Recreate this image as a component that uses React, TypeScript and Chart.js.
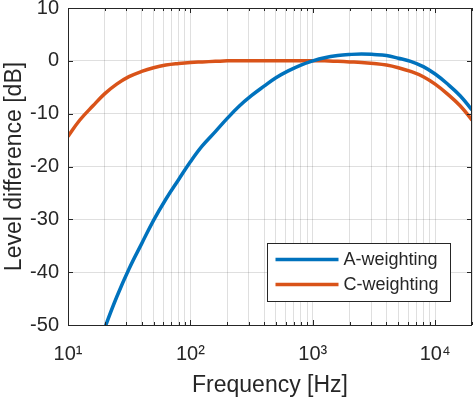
import React, { useEffect, useRef } from 'react';
import { Chart, registerables } from 'chart.js';

Chart.register(...registerables);

// Frequencies (Hz), third-octave bands
const frequencies = [10, 12.5, 16, 20, 25, 31.5, 40, 50, 63, 80, 100, 125, 160, 200, 250, 315, 400, 500, 630, 800, 1000, 1250, 1600, 2000, 2500, 3150, 4000, 5000, 6300, 8000, 10000, 12500, 16000, 20000];
// Level difference (dB)
const aWeighting = [-70.4, -63.4, -56.7, -50.5, -44.7, -39.4, -34.6, -30.2, -26.2, -22.5, -19.1, -16.1, -13.4, -10.9, -8.6, -6.6, -4.8, -3.2, -1.9, -0.8, 0, 0.6, 1.0, 1.2, 1.3, 1.2, 1.0, 0.5, -0.1, -1.1, -2.5, -4.3, -6.6, -9.3];
const cWeighting = [-14.3, -11.2, -8.5, -6.2, -4.4, -3.0, -2.0, -1.3, -0.8, -0.5, -0.3, -0.2, -0.1, 0, 0, 0, 0, 0, 0, 0, 0, 0, -0.1, -0.2, -0.3, -0.5, -0.8, -1.3, -2.0, -3.0, -4.4, -6.2, -8.5, -11.2];

const seriesLabels = ['A-weighting', 'C-weighting'];
const seriesColors = ['#0072BD', '#D95319'];

const xTickValues = [10, 20, 30, 40, 50, 60, 70, 80, 90, 100, 200, 300, 400, 500, 600, 700, 800, 900, 1000, 2000, 3000, 4000, 5000, 6000, 7000, 8000, 9000, 10000, 20000];
const xMajorValues = [10, 100, 1000, 10000];
const xMajorLabels = ['10\u00B9', '10\u00B2', '10\u00B3', '10\u2074'];
const yTickValues = [-50, -40, -30, -20, -10, 0, 10];

const FONT = '"Liberation Sans", Arial, sans-serif';
const AXIS_COLOR = '#262626';
const GRID_COLOR = 'rgba(38,38,38,0.15)';

const framePlugin = {
  id: 'frameAndTicks',
  afterDatasetsDraw(chart: any) {
    const ctx = chart.ctx;
    const { left, right, top, bottom } = chart.chartArea;
    const xs = chart.scales.x;
    const ys = chart.scales.y;
    ctx.save();
    ctx.strokeStyle = AXIS_COLOR;
    ctx.lineWidth = 1;
    ctx.beginPath();
    xTickValues.forEach((v) => {
      const px = Math.round(xs.getPixelForValue(v)) + 0.5;
      const len = xMajorValues.includes(v) ? 5 : 3;
      ctx.moveTo(px, bottom);
      ctx.lineTo(px, bottom - len);
      ctx.moveTo(px, top);
      ctx.lineTo(px, top + len);
    });
    yTickValues.forEach((v) => {
      const py = Math.round(ys.getPixelForValue(v)) + 0.5;
      ctx.moveTo(left, py);
      ctx.lineTo(left + 5, py);
      ctx.moveTo(right, py);
      ctx.lineTo(right - 5, py);
    });
    ctx.stroke();
    ctx.strokeRect(Math.round(left) + 0.5, Math.round(top) + 0.5, Math.round(right - left) - 1, Math.round(bottom - top));
    ctx.restore();
  },
  afterDraw(chart: any) {
    const ctx = chart.ctx;
    const { right, bottom } = chart.chartArea;
    const bw = 183;
    const bh = 58;
    const bx = Math.round(right - 22 - bw) + 0.5;
    const by = Math.round(bottom - 24 - bh) + 0.5;
    ctx.save();
    ctx.fillStyle = '#ffffff';
    ctx.fillRect(bx, by, bw, bh);
    ctx.strokeStyle = AXIS_COLOR;
    ctx.lineWidth = 1;
    ctx.strokeRect(bx, by, bw, bh);
    ctx.font = `18px ${FONT}`;
    ctx.textBaseline = 'middle';
    ctx.textAlign = 'left';
    chart.data.datasets.forEach((ds: any, i: number) => {
      const cy = by + 16 + i * 25;
      ctx.strokeStyle = ds.borderColor;
      ctx.lineWidth = 3.5;
      ctx.beginPath();
      ctx.moveTo(bx + 8, cy);
      ctx.lineTo(bx + 71, cy);
      ctx.stroke();
      ctx.fillStyle = AXIS_COLOR;
      ctx.fillText(ds.label, bx + 76, cy + 1);
    });
    ctx.restore();
  },
};

export default function App() {
  const canvasRef = useRef<HTMLCanvasElement | null>(null);

  useEffect(() => {
    if (!canvasRef.current) return;
    const makeData = (values: number[]) => frequencies.map((f, i) => ({ x: f, y: values[i] }));
    const chart = new Chart(canvasRef.current, {
      type: 'line',
      data: {
        datasets: [
          {
            label: seriesLabels[0],
            data: makeData(aWeighting),
            borderColor: seriesColors[0],
            backgroundColor: seriesColors[0],
            borderWidth: 3.5,
            pointRadius: 0,
            tension: 0.4,
            clip: 0,
          },
          {
            label: seriesLabels[1],
            data: makeData(cWeighting),
            borderColor: seriesColors[1],
            backgroundColor: seriesColors[1],
            borderWidth: 3.5,
            pointRadius: 0,
            tension: 0.4,
            clip: 0,
          },
        ],
      },
      options: {
        animation: false,
        responsive: false,
        maintainAspectRatio: false,
        layout: { padding: { left: 0, right: 2, top: 8, bottom: 0 } },
        plugins: {
          legend: { display: false },
          tooltip: { enabled: false },
        },
        scales: {
          x: {
            type: 'logarithmic',
            min: 10,
            max: 20000,
            afterBuildTicks: (scale: any) => {
              scale.ticks = xTickValues.map((v) => ({ value: v, major: xMajorValues.includes(v) }));
            },
            afterFit: (scale: any) => {
              scale.height = 74;
              scale.paddingLeft = 0;
              scale.paddingRight = 0;
            },
            grid: { color: GRID_COLOR, drawTicks: false, lineWidth: 1 },
            border: { display: false },
            ticks: {
              autoSkip: false,
              maxRotation: 0,
              padding: 17,
              color: AXIS_COLOR,
              font: { family: FONT, size: 20 },
              callback: (v: any) => {
                const idx = xMajorValues.indexOf(Number(v));
                return idx >= 0 ? xMajorLabels[idx] : '';
              },
            },
            title: {
              display: true,
              text: 'Frequency [Hz]',
              color: AXIS_COLOR,
              font: { family: FONT, size: 23 },
              padding: { top: 0, bottom: 0 },
            },
          },
          y: {
            type: 'linear',
            min: -50,
            max: 10,
            afterBuildTicks: (scale: any) => {
              scale.ticks = yTickValues.map((v) => ({ value: v }));
            },
            afterFit: (scale: any) => {
              scale.width = 68;
              scale.paddingTop = 0;
              scale.paddingBottom = 0;
            },
            grid: { color: GRID_COLOR, drawTicks: false, lineWidth: 1 },
            border: { display: false },
            ticks: {
              padding: 9,
              color: AXIS_COLOR,
              font: { family: FONT, size: 20 },
            },
            title: {
              display: true,
              text: 'Level difference [dB]',
              color: AXIS_COLOR,
              font: { family: FONT, size: 23 },
              padding: { top: 1, bottom: 0 },
            },
          },
        },
      },
      plugins: [framePlugin],
    } as any);
    return () => chart.destroy();
  }, []);

  return (
    <div style={{ position: 'absolute', left: 0, top: 0, width: 474, height: 399, background: '#fff' }}>
      <canvas ref={canvasRef} width={474} height={399} style={{ display: 'block' }} />
    </div>
  );
}
